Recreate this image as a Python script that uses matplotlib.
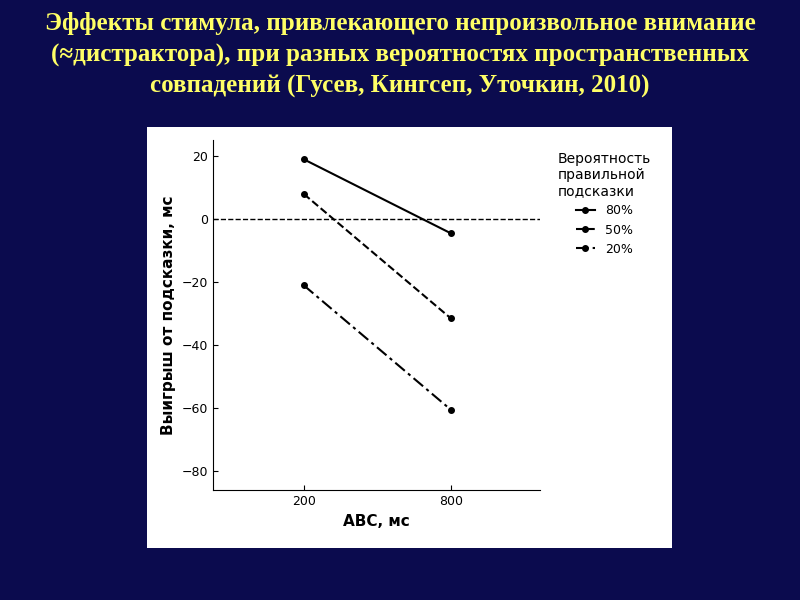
import matplotlib
matplotlib.use('Agg')
import matplotlib.pyplot as plt
from matplotlib.patches import Rectangle

# data
soa = [200, 800]
gain_80 = [19, -4.5]
gain_50 = [8, -31.5]
gain_20 = [-21, -60.5]
series = [('80%', gain_80, '-'), ('50%', gain_50, '--'), ('20%', gain_20, (0, (6, 2, 1.5, 2)))]

fig = plt.figure(figsize=(8, 6), dpi=100)
fig.patch.set_facecolor('#0b0b4e')

title = ('Эффекты стимула, привлекающего непроизвольное внимание\n'
         '(≈дистрактора), при разных вероятностях пространственных\n'
         'совпадений (Гусев, Кингсеп, Уточкин, 2010)')
fig.text(0.5, 0.908, title, ha='center', va='center', color='#ffff66',
         fontsize=18, fontweight='bold', family='Liberation Serif', linespacing=1.45)

# white panel
fig.patches.append(Rectangle((147/800, 1-548/600), (672-147)/800, (548-127)/600,
                             transform=fig.transFigure, facecolor='white', zorder=-1))

ax = fig.add_axes([0.266, 0.183, 0.409, 0.583])
ax.set_zorder(1)
ax.set_facecolor('white')
for lab, vals, ls in series:
    ax.plot(soa, vals, linestyle=ls, color='black', lw=1.5, marker='o', ms=4, label=lab)
ax.axhline(0, color='black', ls='--', lw=1)
ax.set_xlim(-171, 1163)
ax.set_ylim(-86, 25)
ax.set_xticks(soa)
ax.set_yticks([20, 0, -20, -40, -60, -80])
ax.spines[['top', 'right']].set_visible(False)
ax.tick_params(labelsize=9, direction='in')
ax.set_xlabel('ABC, мс', fontsize=11, fontweight='bold')
ax.set_ylabel('Выигрыш от подсказки, мс', fontsize=11, fontweight='bold')
leg = ax.legend(title='Вероятность\nправильной\nподсказки', loc='upper left',
                bbox_to_anchor=(1.02, 1.0), frameon=False, fontsize=9,
                title_fontsize=10, handlelength=1.5)

fig.savefig('out.png', facecolor=fig.get_facecolor())
